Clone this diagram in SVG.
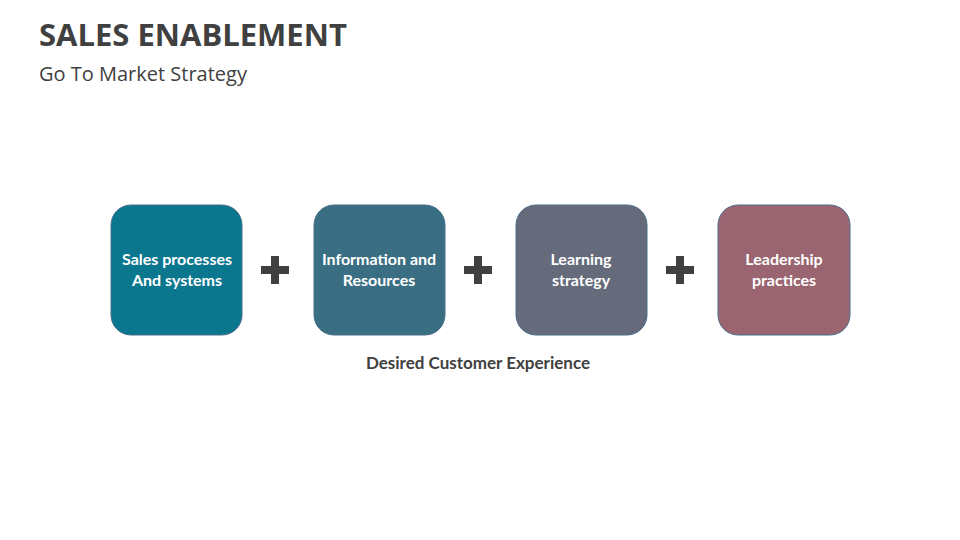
<svg xmlns="http://www.w3.org/2000/svg" width="960" height="540" viewBox="0 0 960 540">
<style>
.t{font-family:"Open Sans","Liberation Sans",sans-serif;}
.b{stroke:#4a6f8a;stroke-width:1}
.l{font-family:Lato,"Liberation Sans",sans-serif;font-weight:bold;font-size:16px;fill:#fff;text-anchor:middle}
.p{fill:#404040}
</style>
<rect width="960" height="540" fill="#fff"/>
<text class="t" x="39" y="46" font-size="31" font-weight="bold" fill="#404040">SALES ENABLEMENT</text>
<text class="t" x="39" y="81" font-size="20" fill="#404040">Go To Market Strategy</text>
<g id="n1"><rect class="b" x="111" y="205" width="131" height="130" rx="20" fill="#0b778f"/><text class="l" x="177" y="265">Sales processes</text><text class="l" x="177" y="286">And systems</text></g>
<g id="n2"><rect class="b" x="314" y="205" width="131" height="130" rx="20" fill="#3a6f83"/><text class="l" x="379" y="265">Information and</text><text class="l" x="379" y="286">Resources</text></g>
<g id="n3"><rect class="b" x="516" y="205" width="131" height="130" rx="20" fill="#666b7b"/><text class="l" x="581" y="265">Learning</text><text class="l" x="581" y="286">strategy</text></g>
<g id="n4"><rect class="b" x="718" y="205" width="132" height="130" rx="20" fill="#9a6570"/><text class="l" x="784" y="265">Leadership</text><text class="l" x="784" y="286">practices</text></g>
<g id="connectors">
<path class="p" d="M271 256h8v10h10v8h-10v10h-8v-10h-10v-8h10z"/>
<path class="p" d="M474 256h8v10h10v8h-10v10h-8v-10h-10v-8h10z"/>
<path class="p" d="M676 256h8v10h10v8h-10v10h-8v-10h-10v-8h10z"/>
</g>
<text x="478" y="369" font-family="Lato,'Liberation Sans',sans-serif" font-weight="bold" font-size="17" fill="#404040" text-anchor="middle">Desired Customer Experience</text>
</svg>
